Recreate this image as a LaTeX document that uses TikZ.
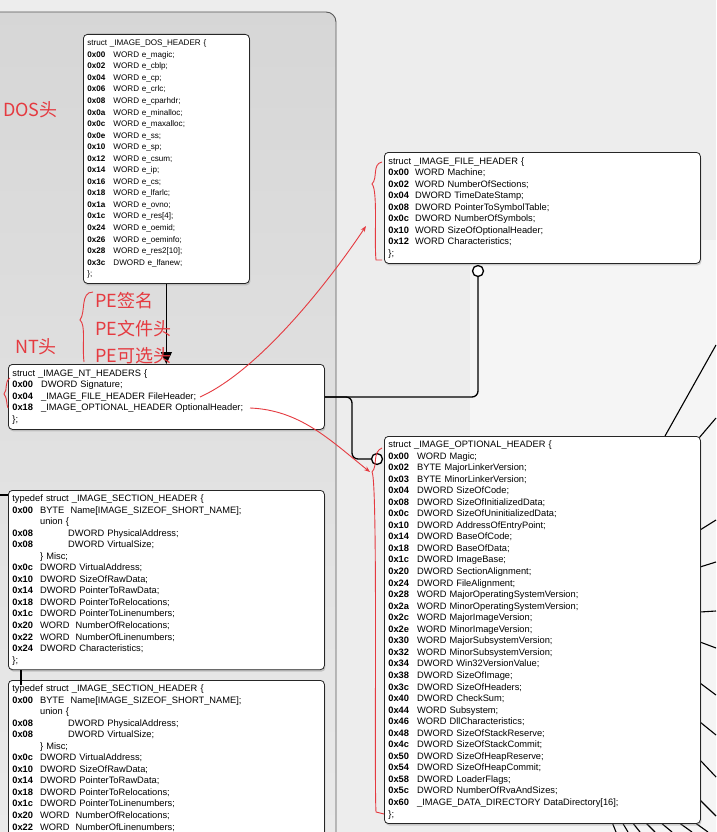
\documentclass[tikz,border=0pt]{standalone}
\usepackage{fontspec}
\setmainfont{Liberation Sans}
\newfontfamily\cjk{Noto Sans CJK SC}
\usetikzlibrary{shadows,arrows.meta}
\definecolor{ann}{HTML}{E53A40}
\newcommand{\bx}[1]{\textbf{#1}}
\begin{document}
\begin{tikzpicture}[x=1pt,y=-1pt,
  box/.style={draw=black!85,line width=0.8pt,fill=white,rounded corners=4pt,anchor=north west,
    inner xsep=4pt,inner ysep=3pt,drop shadow={shadow xshift=1pt,shadow yshift=-2pt,opacity=0.35},
    font=\fontsize{9.3}{11.55}\selectfont,align=left,text width=#1},
  small/.style={font=\fontsize{8.1}{11.55}\selectfont},
  conn/.style={line width=1.3pt,black},
  fan/.style={line width=1.1pt,black},
  red/.style={ann,line width=0.9pt},
  hand/.style={ann,font=\cjk\fontsize{18}{18}\selectfont,inner sep=0pt,anchor=west}]
\useasboundingbox (0,0) rectangle (716,832);
\fill[black!7] (0,0) rectangle (716,832);
\fill[black!4] (470,240) rectangle (716,832);
\shade[top color=black!16,bottom color=black!8,draw=black!65,line width=0.9pt,rounded corners=10pt]
  (-20,12) rectangle (336,860);
% fan lines
\foreach \a/\b/\c/\d in {665/436/716/345, 699/438/716/418, 700/530/716/520, 700/567/716/562, 700/612/716/611,
   700/642/716/648, 700/683/716/695, 700/722/716/735, 700/760/716/777, 700/800/716/816,
   612/822/616/832, 622/822/628/832, 632/822/640/832, 645/822/655/832, 660/822/672/832, 678/822/692/832, 694/822/708/832}
  \draw[fan] (\a,\b) -- (\c,\d);
\node[box=158pt,small,minimum height=249pt] (dos) at (83,34) {%
\begin{tabular}{@{}l@{\hspace{8pt}}l@{}}
\multicolumn{2}{@{}l}{struct \_IMAGE\_DOS\_HEADER \{}\\
\bx{0x00} & WORD e\_magic;\\ \bx{0x02} & WORD e\_cblp;\\ \bx{0x04} & WORD e\_cp;\\
\bx{0x06} & WORD e\_crlc;\\ \bx{0x08} & WORD e\_cparhdr;\\ \bx{0x0a} & WORD e\_minalloc;\\
\bx{0x0c} & WORD e\_maxalloc;\\ \bx{0x0e} & WORD e\_ss;\\ \bx{0x10} & WORD e\_sp;\\
\bx{0x12} & WORD e\_csum;\\ \bx{0x14} & WORD e\_ip;\\ \bx{0x16} & WORD e\_cs;\\
\bx{0x18} & WORD e\_lfarlc;\\ \bx{0x1a} & WORD e\_ovno;\\ \bx{0x1c} & WORD e\_res[4];\\
\bx{0x24} & WORD e\_oemid;\\ \bx{0x26} & WORD e\_oeminfo;\\ \bx{0x28} & WORD e\_res2[10];\\
\bx{0x3c} & DWORD e\_lfanew;\\
\multicolumn{2}{@{}l}{\};}
\end{tabular}};
\node[box=308pt,minimum height=65pt] (nt) at (8,364) {%
\begin{tabular}{@{}l@{\hspace{8pt}}l@{}}
\multicolumn{2}{@{}l}{struct \_IMAGE\_NT\_HEADERS \{}\\
\bx{0x00} & DWORD Signature;\\ \bx{0x04} & \_IMAGE\_FILE\_HEADER FileHeader;\\
\bx{0x18} & \_IMAGE\_OPTIONAL\_HEADER OptionalHeader;\\
\multicolumn{2}{@{}l}{\};}
\end{tabular}};
\node[box=308pt,minimum height=111pt] (fh) at (384,152) {%
\begin{tabular}{@{}l@{\hspace{6pt}}l@{}}
\multicolumn{2}{@{}l}{struct \_IMAGE\_FILE\_HEADER \{}\\
\bx{0x00} & WORD Machine;\\ \bx{0x02} & WORD NumberOfSections;\\ \bx{0x04} & DWORD TimeDateStamp;\\
\bx{0x08} & DWORD PointerToSymbolTable;\\ \bx{0x0c} & DWORD NumberOfSymbols;\\
\bx{0x10} & WORD SizeOfOptionalHeader;\\ \bx{0x12} & WORD Characteristics;\\
\multicolumn{2}{@{}l}{\};}
\end{tabular}};
\node[box=308pt,minimum height=386pt] (opt) at (384,436) {%
\begin{tabular}{@{}l@{\hspace{8pt}}l@{}}
\multicolumn{2}{@{}l}{struct \_IMAGE\_OPTIONAL\_HEADER \{}\\
\bx{0x00} & WORD Magic;\\ \bx{0x02} & BYTE MajorLinkerVersion;\\ \bx{0x03} & BYTE MinorLinkerVersion;\\
\bx{0x04} & DWORD SizeOfCode;\\ \bx{0x08} & DWORD SizeOfInitializedData;\\
\bx{0x0c} & DWORD SizeOfUninitializedData;\\ \bx{0x10} & DWORD AddressOfEntryPoint;\\
\bx{0x14} & DWORD BaseOfCode;\\ \bx{0x18} & DWORD BaseOfData;\\ \bx{0x1c} & DWORD ImageBase;\\
\bx{0x20} & DWORD SectionAlignment;\\ \bx{0x24} & DWORD FileAlignment;\\
\bx{0x28} & WORD MajorOperatingSystemVersion;\\ \bx{0x2a} & WORD MinorOperatingSystemVersion;\\
\bx{0x2c} & WORD MajorImageVersion;\\ \bx{0x2e} & WORD MinorImageVersion;\\
\bx{0x30} & WORD MajorSubsystemVersion;\\ \bx{0x32} & WORD MinorSubsystemVersion;\\
\bx{0x34} & DWORD Win32VersionValue;\\ \bx{0x38} & DWORD SizeOfImage;\\
\bx{0x3c} & DWORD SizeOfHeaders;\\ \bx{0x40} & DWORD CheckSum;\\ \bx{0x44} & WORD Subsystem;\\
\bx{0x46} & WORD DllCharacteristics;\\ \bx{0x48} & DWORD SizeOfStackReserve;\\
\bx{0x4c} & DWORD SizeOfStackCommit;\\ \bx{0x50} & DWORD SizeOfHeapReserve;\\
\bx{0x54} & DWORD SizeOfHeapCommit;\\ \bx{0x58} & DWORD LoaderFlags;\\
\bx{0x5c} & DWORD NumberOfRvaAndSizes;\\ \bx{0x60} & \_IMAGE\_DATA\_DIRECTORY DataDirectory[16];\\
\multicolumn{2}{@{}l}{\};}
\end{tabular}};
\def\sectbody{%
\begin{tabular}{@{}l@{\hspace{7pt}}l@{}}
\multicolumn{2}{@{}l}{typedef struct \_IMAGE\_SECTION\_HEADER \{}\\
\bx{0x00} & BYTE\ \ Name[IMAGE\_SIZEOF\_SHORT\_NAME];\\
 & union \{\\
\bx{0x08} & \hspace{28pt}DWORD PhysicalAddress;\\
\bx{0x08} & \hspace{28pt}DWORD VirtualSize;\\
 & \} Misc;\\
\bx{0x0c} & DWORD VirtualAddress;\\ \bx{0x10} & DWORD SizeOfRawData;\\
\bx{0x14} & DWORD PointerToRawData;\\ \bx{0x18} & DWORD PointerToRelocations;\\
\bx{0x1c} & DWORD PointerToLinenumbers;\\ \bx{0x20} & WORD\ \ NumberOfRelocations;\\
\bx{0x22} & WORD\ \ NumberOfLinenumbers;\\ \bx{0x24} & DWORD Characteristics;\\
\multicolumn{2}{@{}l}{\};}
\end{tabular}}
\node[box=308pt,minimum height=175pt] (s1) at (8,490) {\sectbody};
\node[box=308pt,minimum height=175pt] (s2) at (8,680) {\sectbody};
% connectors
\draw[conn,-{Triangle[length=12pt,width=11pt]}] (dos.south) -- (nt.north -| dos.south);
\draw[conn,rounded corners=6pt] (nt.east) -- (478,397) -- (478,277);
\draw[conn,fill=white] (478,271) circle (5.5pt);
\draw[conn,rounded corners=6pt] (nt.east) -- (352,397) -- (352,459) -- (372,459);
\draw[conn,fill=white] (377,459) circle (5.5pt);
\draw[conn] (s1.south west) ++(13,0) -- ++(0,15);
\draw[conn] (s1.north west) ++(0,5) -- ++(-8,0);
% annotations
\node[hand] (a1) at (3,110) {DOS头};
\node[hand] (a2) at (95,301) {PE签名};
\node[hand] (a3) at (95,329) {PE文件头};
\node[hand] (a4) at (95,356) {PE可选头};
\node[hand] (a5) at (15,347) {NT头};
\draw[red] (93,292) .. controls (80,292) and (86,312) .. (80,320) .. controls (86,325) and (82,345) .. (84,362);
\draw[red] (382,162) .. controls (372,164) and (378,178) .. (372,184) .. controls (378,190) and (374,240) .. (376,260) -- (382,260);
\draw[red] (382,448) .. controls (372,452) and (378,466) .. (372,472) .. controls (378,480) and (374,780) .. (376,812) -- (384,814);
\draw[red] (10,378) .. controls (4,382) and (8,390) .. (4,394) .. controls (8,400) and (6,404) .. (8,408);
\draw[red,-{Stealth[length=6pt]}] (200,397) .. controls (260,370) and (330,280) .. (366,226);
\draw[red,-{Stealth[length=6pt]}] (250,408) .. controls (300,410) and (330,440) .. (370,472);
\end{tikzpicture}
\end{document}
